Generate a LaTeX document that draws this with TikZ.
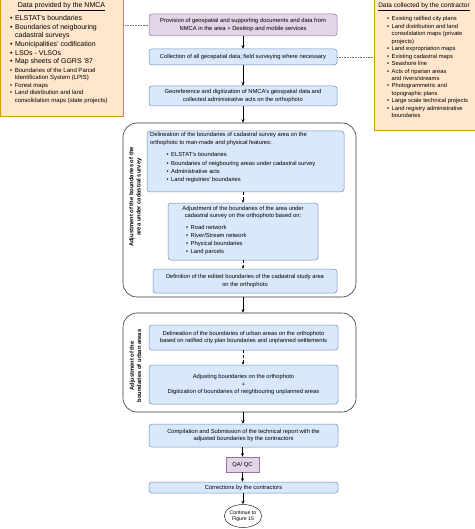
\documentclass[tikz,border=0pt]{standalone}
\usepackage{fontspec}
\setmainfont{Liberation Sans}
\usetikzlibrary{arrows.meta,shapes.geometric}
\definecolor{bfill}{HTML}{DAE8FC}
\definecolor{bdraw}{HTML}{6C8EBF}
\definecolor{pfill}{HTML}{E1D5E7}
\definecolor{pdraw}{HTML}{9673A6}
\definecolor{ofill}{HTML}{FFE6CC}
\definecolor{odraw}{HTML}{D79B00}
\newcommand{\fs}[2]{\fontsize{#1}{#2}\selectfont}
\newcommand{\bl}{\textbullet\hspace{2.5pt}}
\newcommand{\bi}{\phantom{\textbullet}\hspace{2.5pt}}
\begin{document}
\begin{tikzpicture}[x=1pt,y=-1pt,
 box/.style={draw=bdraw,fill=bfill,rounded corners=3pt,line width=0.5pt,inner sep=0pt,align=center,font=\fs{5.8}{7.6}},
 pbox/.style={box,draw=pdraw,fill=pfill},
 grp/.style={draw=black!80,rounded corners=14pt,line width=0.6pt,inner sep=0pt},
 obox/.style={draw=odraw,fill=ofill,line width=0.6pt,inner sep=0pt},
 arr/.style={-{Stealth[length=3.5pt,width=3pt]},line width=0.6pt},
 darr/.style={-{Stealth[length=3pt,width=2.6pt]},line width=0.4pt,densely dashed},
 dots/.style={densely dotted,line width=0.6pt,black!55},
 glabel/.style={rotate=90,font=\bfseries\fs{5.8}{7.2},align=center,inner sep=0pt},
 txt/.style={inner sep=0pt,align=left,anchor=north west}
]
\useasboundingbox (0,0) rectangle (474,529);
\fill[white] (0,0) rectangle (474,529);

% left orange box
\node[obox,minimum width=123,minimum height=117] (nmca) at (61.5,57.5) {};
\node[inner sep=0pt,font=\fs{7}{8}] (nmcat) at (61.5,6.5) {\underline{Data provided by the NMCA}};
\node[txt,font=\fs{7}{8.6}] (nmcaa) at (10,15.5) {\bl ELSTAT's boundaries\\ \bl Boundaries of neigbouring\\ \bi cadastral surveys\\ \bl Municipalities' codification\\ \bl LSOs - VLSOs\\ \bl Map sheets of GGRS '87};
\node[txt,font=\fs{6}{7.6}] (nmcab) at (10,67.5) {\bl Boundaries of the Land Parcel\\ \bi Identification System (LPIS)\\ \bl Forest maps\\ \bl Land distribution and land\\ \bi consolidation maps (state projects)};

% right orange box
\node[obox,minimum width=102,minimum height=132] (contr) at (425,64) {};
\node[inner sep=0pt,font=\fs{6.5}{7.5}] (contrt) at (424,6.5) {\underline{Data collected by the contractor}};
\node[txt,font=\fs{5.8}{7.45}] (contra) at (387,16.5) {\bl Existing ratified city plans\\ \bl Land distribution and land\\ \bi consolidation maps (private\\ \bi projects)\\ \bl Land expropriation maps\\ \bl Existing cadastral maps\\ \bl Seashore line\\ \bl Acts of riparian areas\\ \bi and rivers/streams\\ \bl Photogrammetric and\\ \bi topographic plans\\ \bl Large scale technical projects\\ \bl Land registry administrative\\ \bi boundaries};

% main column
\node[pbox,minimum width=188,minimum height=22] (b1) at (243,25) {Provision of geospatial and supporting documents and data from\\NMCA in the area + Desktop and mobile services};
\node[box,minimum width=188,minimum height=16] (b2) at (243,57) {Collection of all geospatial data; field surveying where necessary};
\node[box,minimum width=188,minimum height=20] (b3) at (243,96) {Georeference and digitization of NMCA's geospatial data and\\collected administrative acts on the orthophoto};

% group 1
\node[grp,minimum width=233,minimum height=174] (g1) at (239.5,210) {};
\node[glabel] (g1l) at (135.5,197) {Adjustment of the boundaries of the\\area under cadastral survey};
\node[box,minimum width=197,minimum height=61] (ba) at (245.5,161.5) {};
\node[txt,font=\fs{5.8}{8}] (bat) at (150,131.8) {Delineation of the boundaries of cadastral survey area on the\\orthophoto to man-made and physical features:};
\node[txt,font=\fs{5.8}{8.3}] (bal) at (166.5,152.3) {\bl ELSTAT's boundaries\\ \bl Boundaries of neigbouring areas under cadastral survey\\ \bl Administrative acts\\ \bl Land registries' boundaries};
\node[box,minimum width=150,minimum height=57] (bb) at (243,231.5) {};
\node[inner sep=0pt,align=center,font=\fs{5.8}{7.6}] (bbt) at (243,212.5) {Adjustment of the boundaries of the area under\\cadastral survey on the orthophoto based on:};
\node[txt,font=\fs{5.8}{8}] (bbl) at (186,225.5) {\bl Road network\\ \bl River/Stream network\\ \bl Physical boundaries\\ \bl Land parcels};
\node[box,minimum width=184,minimum height=24] (bc) at (245,281) {Definition of the edited boundaries of the cadastral study area\\on the orthophoto};

% group 2
\node[grp,minimum width=233,minimum height=99] (g2) at (239.5,362.5) {};
\node[glabel] (g2l) at (135.5,366) {Adjustment of the\\boundaries of urban areas};
\node[box,minimum width=189,minimum height=25] (bd) at (243.5,337.5) {Delineation of the boundaries of urban areas on the orthophoto\\based on ratified city plan boundaries and unplanned settlements};
\node[box,minimum width=189,minimum height=39] (be) at (243.5,384.5) {Adjusting boundaries on the orthophoto\\+\\Digitization of boundaries of neighbouring unplanned areas};

% bottom
\node[box,minimum width=189,minimum height=23] (bf) at (243.5,435.5) {Compilation and Submission of the technical report with the\\adjusted boundaries by the contractors};
\node[pbox,rounded corners=0pt,minimum width=33,minimum height=15] (qa) at (242.5,464.5) {QA/ QC};
\node[box,minimum width=189,minimum height=11] (bg) at (243.5,487.5) {Corrections by the contractors};
\node[ellipse,draw=black!85,fill=white,line width=0.5pt,minimum width=34,minimum height=23,inner sep=0pt,align=center,font=\fs{5.2}{6.2}] (cont) at (243,516) {Continue to\\Figure 15};

% connectors
\draw[dots] (nmca.east |- b1.west) -- (b1.west);
\draw[dots] (b2.east) -- (b2.east -| contr.west);
\draw[arr] (b1.south -| b2.north) -- (b2.north);
\draw[arr] (b2.south) -- (b3.north);
\draw[arr] (b3.south) -- (b3.south |- g1.north);
\draw[darr] (ba.south -| bb.north) -- (bb.north);
\draw[darr] (bb.south) -- (bb.south |- bc.north);
\draw[arr] (g1.south -| bb.south) -- (g2.north -| bb.south);
\draw[darr] (bd.south -| bb.south) -- (be.north -| bb.south);
\draw[arr] (g2.south -| bb.south) -- (bf.north -| bb.south);
\draw[arr] (bf.south -| qa.north) -- (qa.north);
\draw[arr] (qa.south) -- (qa.south |- bg.north);
\draw[arr] (bg.south -| cont.north) -- (cont.north);
\end{tikzpicture}
\end{document}
